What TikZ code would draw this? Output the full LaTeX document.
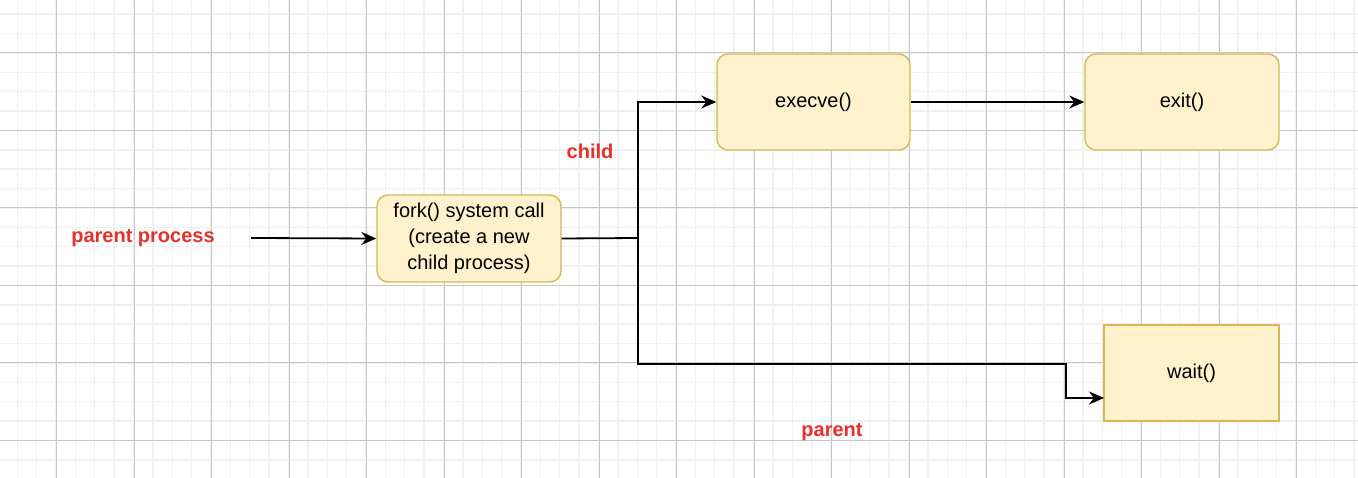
\documentclass[tikz,border=0pt]{standalone}
\usepackage{fontspec}
\setmainfont{Liberation Sans}
\usetikzlibrary{positioning,arrows.meta}
\definecolor{boxfill}{HTML}{FFF2CC}
\definecolor{boxline}{HTML}{D6B656}
\definecolor{lblred}{HTML}{E8302A}
\tikzset{
  callbox/.style={draw=boxline, line width=1.4pt, fill=boxfill, rounded corners=11pt, align=center, inner sep=0pt, font=\fontsize{20}{26}\selectfont},
  redlbl/.style={text=lblred, font=\fontsize{20}{24}\selectfont\bfseries},
  flow/.style={line width=1.8pt, -{Stealth[length=15pt,width=13pt]}}
}
\begin{document}
\begin{tikzpicture}[x=1pt,y=-1pt]
	\useasboundingbox (0,0) rectangle (1358,478);
	\fill[white] (0,0) rectangle (1358,478);

	% grid
	\foreach \i in {0,...,70} {
		\draw[black!6, line width=1.4pt] ({17.2+19.375*\i},0) -- ({17.2+19.375*\i},478);
	}
	\foreach \j in {0,...,25} {
		\draw[black!6, line width=1.4pt] (0,{14.2+19.375*\j}) -- (1358,{14.2+19.375*\j});
	}
	\foreach \i in {0,...,17} {
		\draw[black!22, line width=1pt] ({56.5+77.5*\i},0) -- ({56.5+77.5*\i},478);
	}
	\foreach \j in {0,...,6} {
		\draw[black!22, line width=1pt] (0,{53+77.5*\j}) -- (1358,{53+77.5*\j});
	}

	\node[callbox, minimum width=184pt, minimum height=87pt] (fork) at (469,238.5) {fork() system call\\(create a new\\child process)};
	\node[callbox, minimum width=193pt, minimum height=96pt] (execve) at (813.5,102) {execve()};
	\node[callbox, minimum width=194pt, minimum height=96pt] (exit) at (1182,102) {exit()};
	\node[callbox, rounded corners=0pt, minimum width=175pt, minimum height=96pt] (wait) at (1191.5,373) {wait()};

	\node[redlbl] (pp) at (143,238) {parent process};
	\node[redlbl] (child) at (590,151) {child};
	\node[redlbl] (parent) at (832,432) {parent};

	\coordinate (start) at (251,238);
	\coordinate (split) at (638,238);
	\coordinate (waitin) at (1104,398);

	\draw[flow] (start) -- (fork.west);
	\draw[flow] (fork.east) -- (split) |- (execve.west);
	\draw[flow] (split) |- (1066,364) |- (waitin);
	\draw[flow] (execve.east) -- (exit.west);
\end{tikzpicture}
\end{document}
